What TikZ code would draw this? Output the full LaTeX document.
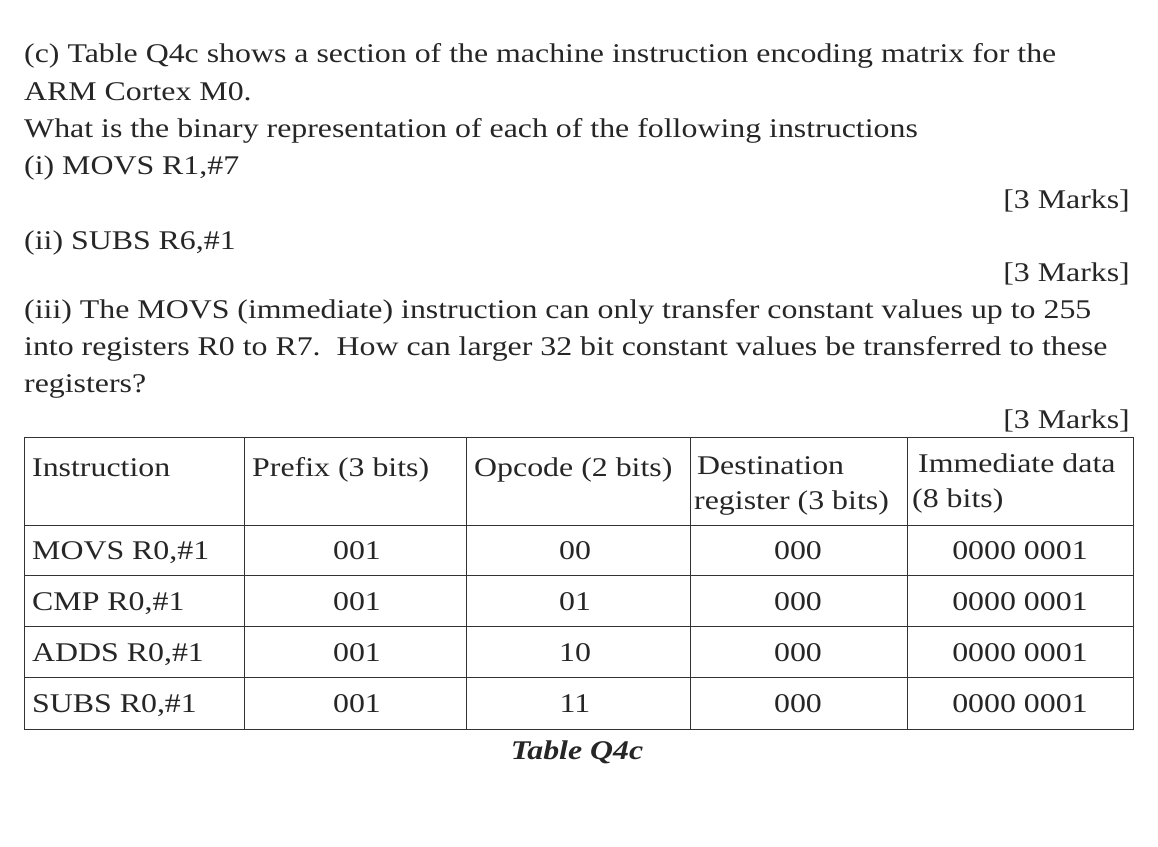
\documentclass[tikz,border=0pt]{standalone}
\usepackage{fontspec}
\setmainfont{Liberation Serif}[FakeStretch=1.18]
\begin{document}
\begin{tikzpicture}[x=1pt,y=-1pt,
  txt/.style={anchor=base west,inner sep=0pt,font=\fontsize{27}{30}\selectfont,text=black!85},
  ctr/.style={anchor=base,inner sep=0pt,font=\fontsize{27}{30}\selectfont,text=black!85},
  rgt/.style={anchor=base east,inner sep=0pt,font=\fontsize{27}{30}\selectfont,text=black!85},
  grid/.style={draw=black!80,line width=1pt}]
\useasboundingbox[fill=white] (0,0) rectangle (1158,846);
\node[txt] (l1) at (24,62) {(c) Table Q4c shows a section of the machine instruction encoding matrix for the};
\node[txt] (l2) at (24,100) {ARM Cortex M0.};
\node[txt] (l3) at (24,137) {What is the binary representation of each of the following instructions};
\node[txt] (l4) at (24,174) {(i) MOVS R1,\#7};
\node[rgt] (m1) at (1130,208) {[3 Marks]};
\node[txt] (l5) at (24,249) {(ii) SUBS R6,\#1};
\node[rgt] (m2) at (1130,281) {[3 Marks]};
\node[txt] (l6) at (24,318) {(iii) The MOVS (immediate) instruction can only transfer constant values up to 255};
\node[txt] (l7) at (24,355) {into registers R0 to R7.\ \ How can larger 32 bit constant values be transferred to these};
\node[txt] (l8) at (24,392) {registers?};
\node[rgt] (m3) at (1130,428) {[3 Marks]};
% table
\draw[grid] (24,437) rectangle (1133,729);
\foreach \y in {525,575,626,677} \draw[grid] (24,\y) -- (1133,\y);
\foreach \x in {244,466,690,907} \draw[grid] (\x,437) -- (\x,729);
\node[txt] (h1) at (32,476) {Instruction};
\node[txt] (h2) at (252,476) {Prefix (3 bits)};
\node[txt] (h3) at (474,476) {Opcode (2 bits)};
\node[txt] (h4a) at (697,474) {Destination};
\node[txt] (h4b) at (694,509) {register (3 bits)};
\node[txt] (h5a) at (918,472) {Immediate data};
\node[txt] (h5b) at (912,507) {(8 bits)};
\foreach \i/\y/\ins/\op in {1/559/{MOVS R0,\#1}/00, 2/610/{CMP R0,\#1}/01, 3/661/{ADDS R0,\#1}/10, 4/712/{SUBS R0,\#1}/11}{
  \node[txt] (r\i a) at (32,\y) {\ins};
  \node[ctr] (r\i b) at (357,\y) {001};
  \node[ctr] (r\i c) at (575,\y) {\op};
  \node[ctr] (r\i d) at (798,\y) {000};
  \node[ctr] (r\i e) at (1020,\y) {0000 0001};
}
\node[ctr,font=\fontsize{27}{30}\selectfont\bfseries\itshape] (cap) at (577,759) {Table Q4c};
\end{tikzpicture}
\end{document}
